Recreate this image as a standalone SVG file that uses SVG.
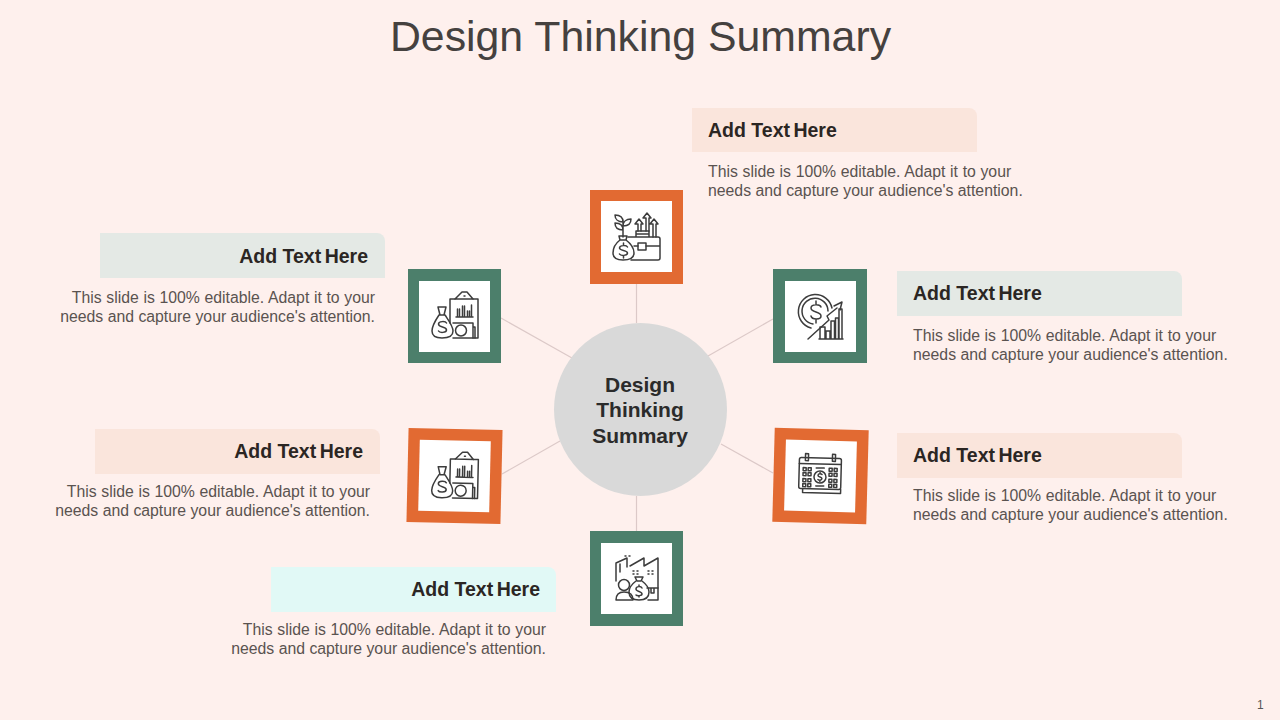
<svg xmlns="http://www.w3.org/2000/svg" xmlns:xlink="http://www.w3.org/1999/xlink" width="1280" height="720" viewBox="0 0 1280 720">
<style>
text{font-family:"Liberation Sans",Arial,sans-serif}
.title{font-size:42.800px;fill:#45413f;text-anchor:middle}
.head{font-size:19.500px;font-weight:bold;fill:#2b2623}
.body{font-size:15.800px;fill:#5a5350}
.l1{word-spacing:.25px}
.end{text-anchor:end}
.center{font-size:21px;font-weight:bold;fill:#2b2b2b;text-anchor:middle}
.num{font-size:12px;fill:#555}
.conn line{stroke:#dcc9c8;stroke-width:1.2}
.org{fill:#e26a32}.grn{fill:#4c7f6b}.wht{fill:#fff}
.ic{fill:none;stroke:#3c3c3c;stroke-width:1.500;stroke-linejoin:round;stroke-linecap:round}
.peach{fill:#fae5dc}.sage{fill:#e4e9e5}.mint{fill:#e1f9f6}
</style>
<defs>
<g id="moneyIcon" class="ic">
<path d="M455,459H450V483M453,498H478V459H473"/>
<path d="M455,459L462,452H467L473,459Z"/>
<path d="M464,456h1M456,477H473M457.500,477V469M459.500,477V469M462.500,477V466M464.500,477V466M467.500,477V471M469.500,477V471M471.500,477V465"/>
<path d="M453,483H473V498M473,487h2v11"/>
<circle cx="461" cy="490.500" r="5.500"/>
<path d="M438,467h8l-2,8h-4zM439,475c-4,6 -7,11 -7,16c0,5 3,7 10,7c7,0 11,-2 11,-7c0,-5 -4,-10 -8,-16"/>
<path d="M446.500,483c-1,-2 -8,-2 -8,1c0,4 8,2 8,6c0,3 -7,3 -8,1"/>
</g>
</defs>
<rect width="1280" height="720" fill="#fef0ed"/>
<text class="title" x="640.500" y="51">Design Thinking Summary</text>
<g id="connectors" class="conn">
<line x1="636.500" y1="284" x2="636.500" y2="323"/>
<line x1="636.500" y1="496" x2="636.500" y2="531"/>
<line x1="501" y1="318" x2="572" y2="358"/>
<line x1="773" y1="319" x2="708" y2="356"/>
<line x1="502" y1="474" x2="560" y2="441"/>
<line x1="773" y1="473" x2="721" y2="444"/>
</g>
<g id="hub"><circle cx="640.500" cy="409.500" r="86.500" fill="#d9d9d9"/>
<text class="center" x="640" y="392">Design</text><text class="center" x="640" y="417">Thinking</text><text class="center" x="640" y="443">Summary</text></g>

<g id="node-top">
<rect class="org" x="590" y="190" width="93" height="94"/><rect class="wht" x="601" y="201" width="71" height="71"/>
<g class="ic">
<path d="M628,237H658a2,2 0 0 1 2,2V258a2,2 0 0 1 -2,2H631M634,246H638M646,246H660M636,237v-6h13v6M636,234h13"/><rect x="638" y="243" width="8" height="7"/>
<path d="M638,231V224h-3l4,-5l4,5h-2V231M646,231V218h-3l4,-5l4,5h-2V231M653,237V224h-3l4,-5l4,5h-2V237"/>
<path d="M623,237V220M623,230c-6,0 -8,-3 -8,-7c5,0 8,2 8,7zM623,222c-5,0 -8,-3 -8,-7c6,0 8,3 8,7zM623,226c0,-4 3,-7 8,-7c0,5 -3,7 -8,7z"/>
<path d="M619,236h8l-1,4h-6zM620,240c-4,3 -7,8 -7,13c0,5 4,7 10,7c7,0 11,-2 11,-7c0,-5 -4,-10 -8,-13"/>
<path d="M627.500,247c-1,-2 -8,-2 -8,1c0,3 8,2 8,5c0,3 -7,3 -8,1M623.500,243v2M623.500,256v2"/>
</g></g>

<g id="node-right-top">
<rect class="grn" x="773" y="269" width="94" height="94"/><rect class="wht" x="785" y="281" width="71" height="71"/>
<g class="ic">
<path d="M832,308A17,17 0 1 0 811,328M828,311A13,13 0 1 0 813,324"/>
<path d="M821,307c-1,-3 -10,-3 -10,1c0,5 10,3 10,8c0,4 -9,4 -10,0M816,301v3M816,320v3"/>
<path d="M808,339L829,320L827,316L837,308M834,306L842,302L840,310"/>
<path d="M820,339V327H825V339M826,339V331H830V339M831,339V321H834.500V339M835.500,339V318H838.500V339M839,339V309H842V339M819,339H843"/>
</g></g>

<g id="node-right-bottom" transform="rotate(1.500 820 476)">
<rect class="org" x="773.500" y="429" width="94" height="94"/><rect class="wht" x="785" y="440.500" width="71" height="71"/>
<g class="ic">
<rect x="799" y="458" width="42" height="31" rx="2"/><path d="M803,489v4h38v-4M799,464H841"/>
<rect x="805" y="454" width="3" height="7"/><rect x="832" y="454" width="3" height="7"/>
<circle cx="820" cy="477" r="6"/><path d="M822,474.500c-1,-1 -4,-1 -4,1c0,2 4,1 4,3c0,2 -3,2 -4,1M820,472.500v1M820,480.500v1M816,468h8M816,486h8"/>
<path d="M803,468h3v3h-3zM808,468h3v3h-3zM803,473h3v3h-3zM808,473h3v3h-3zM803,479h3v3h-3zM808,479h3v3h-3zM803,484h3v3h-3zM808,484h3v3h-3zM829,468h3v3h-3zM834,468h3v3h-3zM829,473h3v3h-3zM834,473h3v3h-3zM829,479h3v3h-3zM834,479h3v3h-3zM829,484h3v3h-3zM834,484h3v3h-3z"/>
</g></g>

<g id="node-bottom">
<rect class="grn" x="590" y="531" width="93" height="95"/><rect class="wht" x="601" y="543" width="71" height="71"/>
<g class="ic">
<path d="M616,581V563L627,558V567M630,566L644,558V566L658,558V588"/>
<path d="M620,572V564M633,571h1M637,571h1M633,574h1M637,574h1M648,571h1M652,571h1M648,574h1M652,574h1M625,556h1M629,556h1"/>
<circle cx="624" cy="585" r="5.500"/><path d="M616,600c0,-6 3,-8 8,-8c5,0 9,2 9,8z"/>
<path d="M635,577h8l-2,4h-4zM636,581c-4,3 -7,7 -7,11c0,6 4,8 10,8c6,0 10,-2 10,-8c0,-4 -3,-8 -7,-11"/>
<path d="M642,588c-1,-2 -6,-2 -6,1c0,3 6,2 6,5c0,2 -5,2 -6,1M639,585v1M639,596v1"/>
<path d="M647,588H658V600H648M651,588v5h3v-5"/>
</g></g>

<g id="node-left-bottom" transform="rotate(1.300 454.500 476)">
<rect class="org" x="407.500" y="429" width="94" height="94"/><rect class="wht" x="419" y="440.500" width="71" height="71"/>
<use xlink:href="#moneyIcon" href="#moneyIcon"/>
</g>

<g id="node-left-top">
<rect class="grn" x="408" y="269" width="93" height="94"/><rect class="wht" x="419" y="281" width="71" height="71"/>
<use xlink:href="#moneyIcon" href="#moneyIcon" transform="translate(0,-160)"/>
</g>

<g id="label-top">
<path class="peach" d="M692,108H969a8,8 0 0 1 8,8V152H692Z"/>
<text class="head" x="708" y="137">Add Text<tspan dx="-2"> Here</tspan></text>
<text class="body l1" x="708" y="177">This slide is 100% editable. Adapt it to your</text>
<text class="body" x="708" y="196">needs and capture your audience's attention.</text>
</g>
<g id="label-right-top">
<path class="sage" d="M897,271H1174a8,8 0 0 1 8,8V316H897Z"/>
<text class="head" x="913" y="300">Add Text<tspan dx="-2"> Here</tspan></text>
<text class="body l1" x="913" y="341">This slide is 100% editable. Adapt it to your</text>
<text class="body" x="913" y="360">needs and capture your audience's attention.</text>
</g>
<g id="label-right-bottom">
<path class="peach" d="M897,433H1174a8,8 0 0 1 8,8V478H897Z"/>
<text class="head" x="913" y="462">Add Text<tspan dx="-2"> Here</tspan></text>
<text class="body l1" x="913" y="501">This slide is 100% editable. Adapt it to your</text>
<text class="body" x="913" y="520">needs and capture your audience's attention.</text>
</g>
<g id="label-left-top">
<path class="sage" d="M100,233H377a8,8 0 0 1 8,8V278H100Z"/>
<text class="head end" x="368" y="263">Add Text<tspan dx="-2"> Here</tspan></text>
<text class="body end l1" x="375" y="303">This slide is 100% editable. Adapt it to your</text>
<text class="body end" x="375" y="322">needs and capture your audience's attention.</text>
</g>
<g id="label-left-bottom">
<path class="peach" d="M95,429H372a8,8 0 0 1 8,8V474H95Z"/>
<text class="head end" x="363" y="458">Add Text<tspan dx="-2"> Here</tspan></text>
<text class="body end l1" x="370" y="497">This slide is 100% editable. Adapt it to your</text>
<text class="body end" x="370" y="516">needs and capture your audience's attention.</text>
</g>
<g id="label-bottom">
<path class="mint" d="M271,567H548a8,8 0 0 1 8,8V612H271Z"/>
<text class="head end" x="540" y="596">Add Text<tspan dx="-2"> Here</tspan></text>
<text class="body end l1" x="546" y="635">This slide is 100% editable. Adapt it to your</text>
<text class="body end" x="546" y="654">needs and capture your audience's attention.</text>
</g>
<text class="num" x="1257" y="709">1</text>
</svg>
